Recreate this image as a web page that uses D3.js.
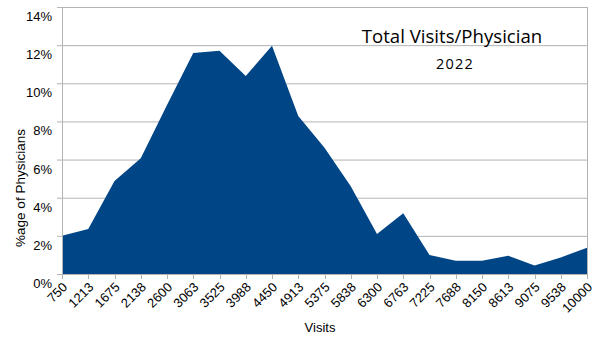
<!DOCTYPE html>
<html lang="en">
<head>
<meta charset="UTF-8">
<title>Total Visits/Physician</title>
<script src="https://cdn.jsdelivr.net/npm/d3@7"></script>
<style>
    body { margin: 0; background: #fff; }
    text { font-family: "Liberation Sans", Arial, sans-serif; }
</style>
</head>
<body>
<div id="output"></div>
<script>

var visits = [750, 1213, 1675, 2138, 2600, 3063, 3525, 3988, 4450, 4913,
    5375, 5838, 6300, 6763, 7225, 7688, 8150, 8613, 9075, 9538, 10000];
var share = [2.0, 2.36, 4.88, 6.07, 8.86, 11.59, 11.71, 10.38, 11.97, 8.29,
    6.62, 4.6, 2.1, 3.18, 1.0, 0.7, 0.7, 0.96, 0.44, 0.87, 1.38];
var yTicks = [0, 2, 4, 6, 8, 10, 12, 14];

var w = 605, h = 340;
var plotLeft = 62, plotRight = 587, plotTop = 7, plotBottom = 274;

var svg = d3.select("#output").append("svg")
    .attr("width", w).attr("height", h);

var xScale = d3.scalePoint()
    .domain(visits)
    .range([plotLeft, plotRight]);

var yScale = d3.scaleLinear()
    .domain([0, 14])
    .range([plotBottom, plotTop]);

// gridlines
svg.append("g").selectAll("line")
    .data(yTicks)
    .enter().append("line")
    .attr("x1", plotLeft - 5).attr("x2", plotRight)
    .attr("y1", function(d){ return yScale(d) + 0.5; })
    .attr("y2", function(d){ return yScale(d) + 0.5; })
    .attr("stroke", "#b3b3b3");

// area
var area = d3.area()
    .x(function(d, i){ return xScale(visits[i]); })
    .y0(yScale(0))
    .y1(function(d){ return yScale(d); });

svg.append("path")
    .datum(share)
    .attr("d", area)
    .attr("fill", "#004586");

// frame
svg.append("line")
    .attr("x1", plotLeft + 0.5).attr("x2", plotLeft + 0.5)
    .attr("y1", plotTop).attr("y2", plotBottom + 5)
    .attr("stroke", "#b3b3b3");
svg.append("line")
    .attr("x1", plotRight + 0.5).attr("x2", plotRight + 0.5)
    .attr("y1", plotTop).attr("y2", plotBottom + 5)
    .attr("stroke", "#b3b3b3");

// x ticks
svg.append("g").selectAll("line")
    .data(visits)
    .enter().append("line")
    .attr("x1", function(d){ return Math.round(xScale(d)) + 0.5; })
    .attr("x2", function(d){ return Math.round(xScale(d)) + 0.5; })
    .attr("y1", plotBottom).attr("y2", plotBottom + 5)
    .attr("stroke", "#b3b3b3");

// y labels (sit a bit below their gridline, as in the original)
svg.append("g").selectAll("text")
    .data(yTicks)
    .enter().append("text")
    .attr("x", 52)
    .attr("y", function(d){ return yScale(d) + 14; })
    .attr("text-anchor", "end")
    .attr("font-size", 13)
    .attr("fill", "#000")
    .text(function(d){ return d + "%"; });

// x labels
svg.append("g").selectAll("text")
    .data(visits)
    .enter().append("text")
    .attr("transform", function(d){
        return "translate(" + (xScale(d) + 6) + "," + (plotBottom + 14) + ") rotate(-45)";
    })
    .attr("text-anchor", "end")
    .attr("font-size", 13)
    .attr("fill", "#000")
    .text(function(d){ return d; });

// axis titles
svg.append("text")
    .attr("transform", "translate(25,188) rotate(-90)")
    .attr("text-anchor", "middle")
    .attr("font-size", 13.5)
    .attr("fill", "#000")
    .text("%age of Physicians");

svg.append("text")
    .attr("x", 320).attr("y", 332)
    .attr("text-anchor", "middle")
    .attr("font-size", 13)
    .attr("fill", "#000")
    .text("Visits");

// title
svg.append("text")
    .attr("x", 452).attr("y", 43)
    .attr("text-anchor", "middle")
    .attr("font-size", 18.6)
    .style("font-family", "'Open Sans', sans-serif")
    .attr("fill", "#000")
    .text("Total Visits/Physician");

svg.append("text")
    .attr("x", 455).attr("y", 69)
    .attr("text-anchor", "middle")
    .attr("font-size", 14.5)
    .attr("letter-spacing", 1.2)
    .style("font-family", "'Open Sans', sans-serif")
    .attr("fill", "#000")
    .text("2022");

</script>
</body>
</html>
